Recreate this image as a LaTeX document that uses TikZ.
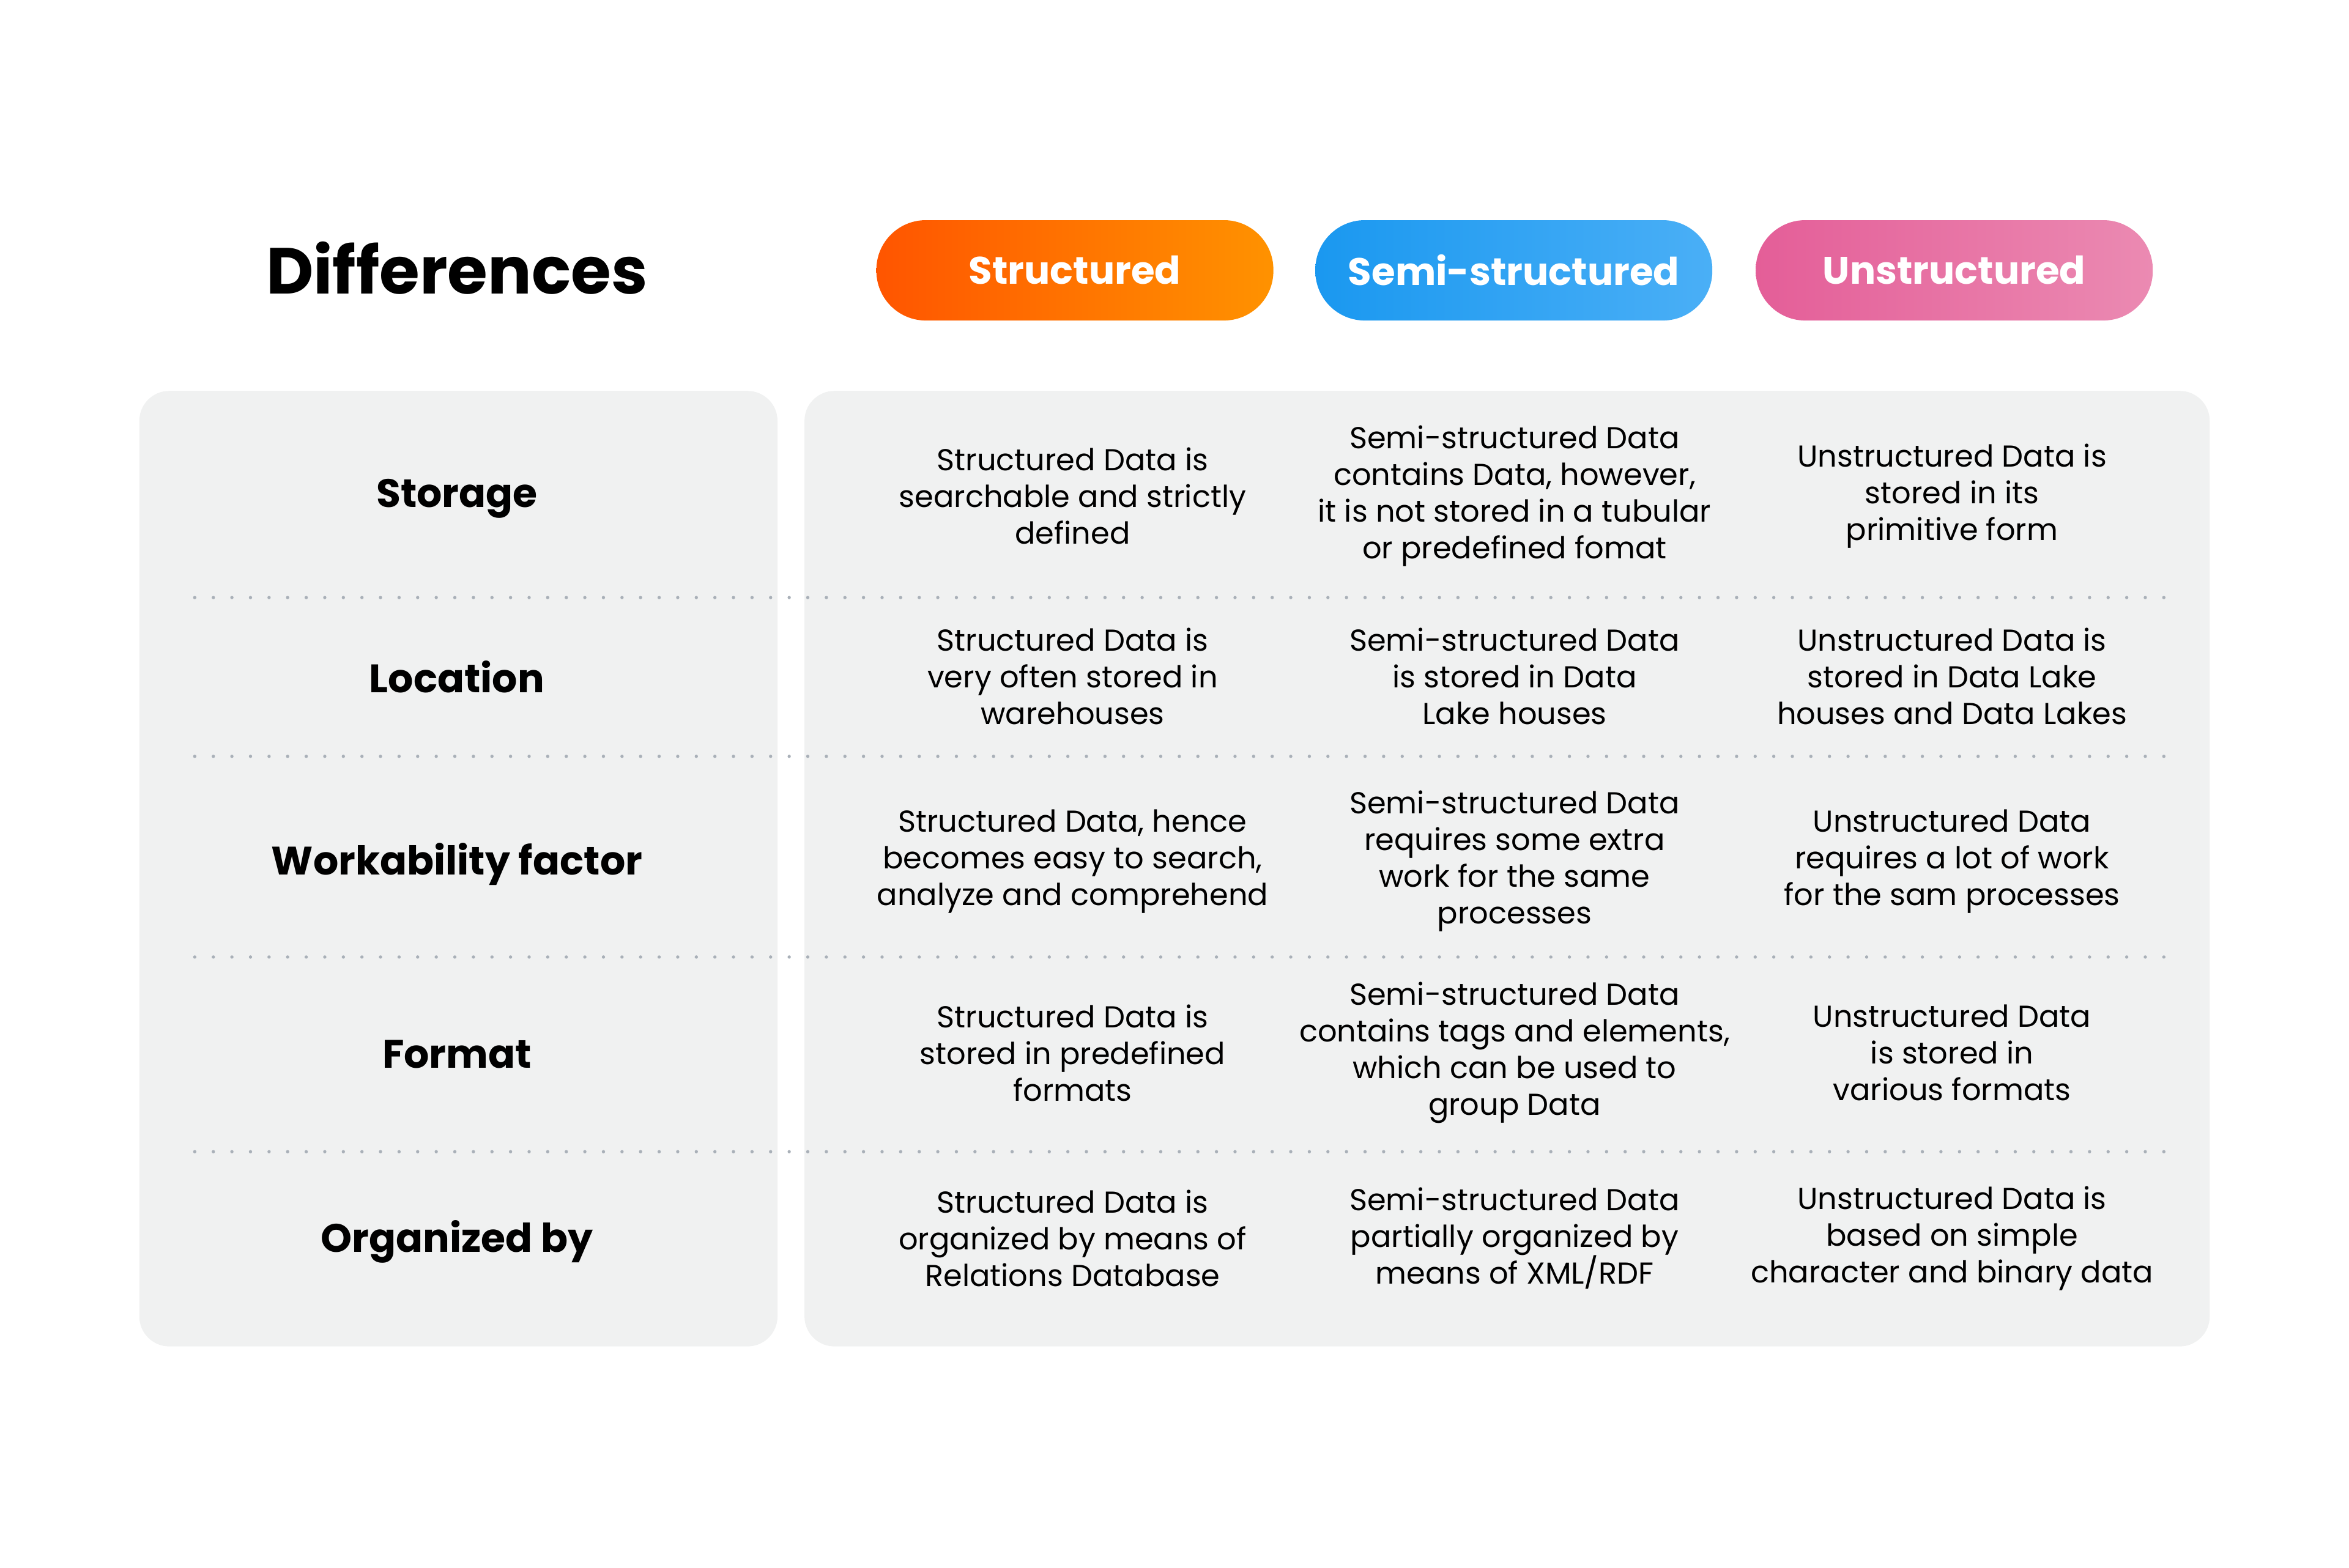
\documentclass[tikz,border=0pt]{standalone}
\usepackage{fontspec}
\setmainfont{Poppins}
\definecolor{panelgrey}{HTML}{F0F1F1}
\definecolor{dotgrey}{HTML}{A9B0B8}
\definecolor{orgL}{HTML}{FF5500}
\definecolor{orgR}{HTML}{FF9200}
\definecolor{bluL}{HTML}{1A98F0}
\definecolor{bluR}{HTML}{4AAFF6}
\definecolor{pnkL}{HTML}{E45E98}
\definecolor{pnkR}{HTML}{EB8AB2}
\begin{document}
\begin{tikzpicture}[x=1pt,y=-1pt,
  pill/.style={rounded corners=33pt, minimum width=265pt, minimum height=67pt, inner sep=0pt, text=white, font=\fontsize{25.6}{30}\selectfont\bfseries},
  rowlbl/.style={font=\fontsize{26.5}{30}\selectfont\bfseries},
  cell/.style={align=center, font=\fontsize{20.2}{24.5}\selectfont},
  sep/.style={draw=dotgrey, line width=2.2pt, line cap=round, dash pattern=on 0pt off 12.4pt}]
\useasboundingbox (0,0) rectangle (1568,1046.6);

% panels
\fill[panelgrey, rounded corners=20pt] (93,261) rectangle (519,899);
\fill[panelgrey, rounded corners=20pt] (537,261) rectangle (1475,899);

% header
\node[font=\fontsize{43.5}{50}\selectfont\bfseries] (title) at (305,179) {Differences};
\node[pill, left color=orgL, right color=orgR] (hd0) at (717.5,180.5) {Structured};
\node[pill, left color=bluL, right color=bluR] (hd1) at (1010.5,180.5) {Semi-structured};
\node[pill, left color=pnkL, right color=pnkR] (hd2) at (1304.5,180.5) {Unstructured};

% separators
\coordinate (s1a) at (130,399); \coordinate (s1b) at (1445,399);
\coordinate (s2a) at (130,505); \coordinate (s2b) at (1445,505);
\coordinate (s3a) at (130,639); \coordinate (s3b) at (1445,639);
\coordinate (s4a) at (130,769); \coordinate (s4b) at (1445,769);
\draw[sep] (s1a) -- (s1b);
\draw[sep] (s2a) -- (s2b);
\draw[sep] (s3a) -- (s3b);
\draw[sep] (s4a) -- (s4b);

% row labels
\node[rowlbl] (rl0) at (305,333) {Storage};
\node[rowlbl] (rl1) at (305,452) {Location};
\node[rowlbl] (rl2) at (305,577) {Workability factor};
\node[rowlbl] (rl3) at (305,704) {Format};
\node[rowlbl] (rl4) at (305,829) {Organized by};

% cells
\node[cell] (c00) at (716,331) {Structured Data is\\searchable and strictly\\defined};
\node[cell] (c01) at (1011,331) {Semi-structured Data\\contains Data, however,\\it is not stored in a tubular\\or predefined fomat};
\node[cell] (c02) at (1303,331) {Unstructured Data is\\stored in its\\primitive form};

\node[cell] (c10) at (716,451.5) {Structured Data is\\very often stored in\\warehouses};
\node[cell] (c11) at (1011,451.5) {Semi-structured Data\\is stored in Data\\Lake houses};
\node[cell] (c12) at (1303,451.5) {Unstructured Data is\\stored in Data Lake\\houses and Data Lakes};

\node[cell] (c20) at (716,575) {Structured Data, hence\\becomes easy to search,\\analyze and comprehend};
\node[cell] (c21) at (1011,575) {Semi-structured Data\\requires some extra\\work for the same\\processes};
\node[cell] (c22) at (1303,575) {Unstructured Data\\requires a lot of work\\for the sam processes};

\node[cell] (c30) at (716,703) {Structured Data is\\stored in predefined\\formats};
\node[cell] (c31) at (1011,703) {Semi-structured Data\\contains tags and elements,\\which can be used to\\group Data};
\node[cell] (c32) at (1303,703) {Unstructured Data\\is stored in\\various formats};

\node[cell] (c40) at (716,827) {Structured Data is\\organized by means of\\Relations Database};
\node[cell] (c41) at (1011,827) {Semi-structured Data\\partially organized by\\means of XML/RDF};
\node[cell] (c42) at (1303,827) {Unstructured Data is\\based on simple\\character and binary data};

\end{tikzpicture}
\end{document}
